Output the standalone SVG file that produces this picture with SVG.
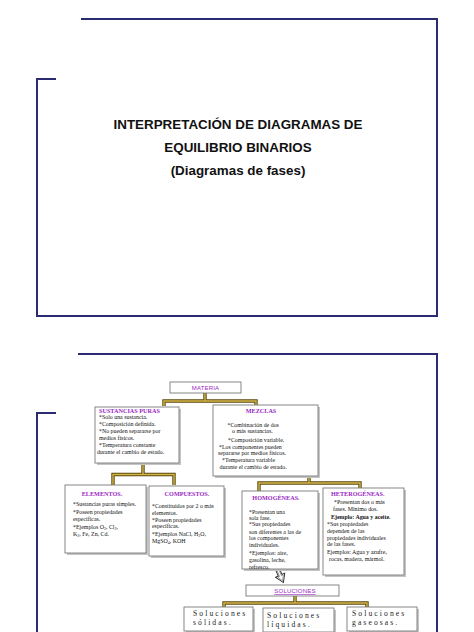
<svg xmlns="http://www.w3.org/2000/svg" width="474" height="632" viewBox="0 0 474 632">
<style>
.frame{fill:none;stroke:#2b2b72;stroke-width:2;stroke-linecap:square}
.title{font-family:"Liberation Sans",Arial,sans-serif;font-weight:bold;font-size:13.4px;fill:#111;text-anchor:middle}
.box{fill:#fff;stroke:#7a7a7a;stroke-width:0.9}
.shadow{fill:#c4c4c4}
.hd{font-family:"Liberation Serif","Times New Roman",serif;font-weight:bold;font-size:6.2px;fill:#9a1fc4}
.tx{font-family:"Liberation Serif","Times New Roman",serif;font-size:5.9px;fill:#111}
.b{font-weight:bold}
.lbl{font-family:"Liberation Sans",Arial,sans-serif;font-size:6px;fill:#9a1fc4;text-anchor:middle;letter-spacing:0.2px}
.sol{font-family:"Liberation Serif","Times New Roman",serif;font-size:7.6px;fill:#222;letter-spacing:2.1px}
.co{fill:none;stroke:#5a4a0c;stroke-width:3.4;stroke-linejoin:miter}
.ci{fill:none;stroke:#d6b548;stroke-width:1.4;stroke-linejoin:miter}
.mid{text-anchor:middle}
</style>
<rect width="474" height="632" fill="#fff"/>

<g id="slide1-frame">
  <polyline class="frame" points="82,19 437,19 437,316 37,316 37,79 55,79"/>
</g>
<g id="title">
  <text class="title" x="238" y="129">INTERPRETACIÓN DE DIAGRAMAS DE</text>
  <text class="title" x="238" y="152">EQUILIBRIO BINARIOS</text>
  <text class="title" x="238" y="175">(Diagramas de fases)</text>
</g>

<g id="slide2-frame">
  <polyline class="frame" points="79,354 437,354 437,640"/>
  <polyline class="frame" points="55,413 37,413 37,640"/>
</g>

<g id="connectors">
  <path class="co" d="M205,393V401M164,406V401H256V406"/>
  <path class="ci" d="M205,393V401M164,406V401H256V406"/>
  <path class="co" d="M143,463V474.5M113,485V474.5H174V485"/>
  <path class="ci" d="M143,463V474.5M113,485V474.5H174V485"/>
  <path class="co" d="M309,476V483M259,491V483H360V488"/>
  <path class="ci" d="M309,476V483M259,491V483H360V488"/>
  <path class="co" d="M295,596V603M224,607V603H367V607"/>
  <path class="ci" d="M295,596V603M224,607V603H367V607"/>
  <g transform="translate(276.5,567) rotate(-24)">
    <polygon points="-2,0 2,0 2,9 5,9 0,17 -5,9 -2,9" fill="#fff" stroke="#222" stroke-width="0.9"/>
    <polygon points="-1,1 1,1 1,10 3,10 0,15 -3,10 -1,10" fill="none" stroke="#555" stroke-width="0.5"/>
  </g>
</g>

<g id="materia">
  <rect class="box" x="170" y="382" width="71" height="11"/>
  <text class="lbl" x="205.5" y="390">MATERIA</text>
</g>

<g id="sustancias-puras">
  <rect class="shadow" x="97" y="409" width="84" height="56"/>
  <rect class="box" x="95" y="407" width="84" height="56"/>
  <text class="hd" x="99" y="412.7">SUSTANCIAS PURAS</text>
  <text class="tx" x="99" y="418.5">*Solo una sustancia.</text>
  <text class="tx" x="99" y="425.5">*Composición definida.</text>
  <text class="tx" x="99" y="432.7">*No pueden separarse por</text>
  <text class="tx" x="99" y="439.5">medios físicos.</text>
  <text class="tx" x="99" y="446.7">*Temperatura constante</text>
  <text class="tx" x="97" y="454">durante el cambio de estado.</text>
</g>

<g id="mezclas">
  <rect class="shadow" x="215" y="407" width="105" height="71"/>
  <rect class="box" x="213" y="405" width="105" height="71"/>
  <text class="hd mid" x="261" y="413">MEZCLAS</text>
  <text class="tx" x="227.5" y="426.5">*Combinación de dos</text>
  <text class="tx" x="232" y="432.5">o más sustancias.</text>
  <text class="tx" x="228" y="441.5">*Composición variable.</text>
  <text class="tx" x="219" y="448.5">*Los componentes pueden</text>
  <text class="tx" x="218" y="455">separarse por medios físicos.</text>
  <text class="tx" x="222" y="461.5">*Temperatura variable</text>
  <text class="tx" x="219.5" y="469">durante el cambio de estado.</text>
</g>

<g id="elementos">
  <rect class="shadow" x="67" y="487" width="81" height="68"/>
  <rect class="box" x="65" y="485" width="81" height="68"/>
  <text class="hd mid" x="102" y="496">ELEMENTOS.</text>
  <text class="tx" x="73" y="506">*Sustancias puras simples.</text>
  <text class="tx" x="73" y="514">*Poseen propiedades</text>
  <text class="tx" x="73" y="521">específicas.</text>
  <text class="tx" x="73" y="529">*Ejemplos O<tspan font-size="4" dy="1">2</tspan><tspan dy="-1">, Cl</tspan><tspan font-size="4" dy="1">2</tspan><tspan dy="-1">,</tspan></text>
  <text class="tx" x="73" y="536">K<tspan font-size="4" dy="1">2</tspan><tspan dy="-1">, Fe, Zn, Cd.</tspan></text>
</g>

<g id="compuestos">
  <rect class="shadow" x="151" y="488" width="75" height="70"/>
  <rect class="box" x="149" y="486" width="75" height="70"/>
  <text class="hd mid" x="187" y="496">COMPUESTOS.</text>
  <text class="tx" x="152" y="507.5">*Constituidos por 2 o más</text>
  <text class="tx" x="152" y="514.5">elementos.</text>
  <text class="tx" x="152" y="521.5">*Poseen propiedades</text>
  <text class="tx" x="152" y="528">específicas.</text>
  <text class="tx" x="152" y="535.5">*Ejemplos NaCl, H<tspan font-size="4" dy="1">2</tspan><tspan dy="-1">O,</tspan></text>
  <text class="tx" x="152" y="543">MgSO<tspan font-size="4" dy="1">4</tspan><tspan dy="-1">, KOH</tspan></text>
</g>

<g id="homogeneas">
  <rect class="shadow" x="244" y="493" width="76" height="78"/>
  <rect class="box" x="242" y="491" width="76" height="78"/>
  <text class="hd mid" x="276" y="500">HOMOGÉNEAS.</text>
  <text class="tx" x="249" y="513.5">*Presentan una</text>
  <text class="tx" x="249" y="519.5">sola fase.</text>
  <text class="tx" x="249" y="526">*Sus propiedades</text>
  <text class="tx" x="249" y="533.5">son diferentes a las de</text>
  <text class="tx" x="249" y="540">los componentes</text>
  <text class="tx" x="249" y="547">individuales.</text>
  <text class="tx" x="249" y="554.5">*Ejemplos: aire,</text>
  <text class="tx" x="249" y="562">gasolina, leche,</text>
  <text class="tx" x="249" y="569">refresco.</text>
</g>

<g id="heterogeneas">
  <rect class="shadow" x="325" y="490" width="81" height="87"/>
  <rect class="box" x="323" y="488" width="81" height="87"/>
  <text class="hd" x="331" y="496">HETEROGÉNEAS.</text>
  <text class="tx" x="334" y="503.5">*Presentan dos o más</text>
  <text class="tx" x="333" y="511">fases. Mínimo dos.</text>
  <text class="tx b" x="331" y="518.5">Ejemplo: Agua y aceite.</text>
  <text class="tx" x="327" y="526">*Sus propiedades</text>
  <text class="tx" x="327" y="533">dependen de las</text>
  <text class="tx" x="327" y="539.5">propiedades individuales</text>
  <text class="tx" x="327" y="546">de las fases.</text>
  <text class="tx" x="327" y="553.5">Ejemplos: Agua y azufre,</text>
  <text class="tx" x="329" y="561">rocas, madera, mármol.</text>
</g>

<g id="soluciones">
  <rect class="box" x="246" y="585" width="93" height="11"/>
  <text class="lbl" x="295" y="593" text-decoration="underline">SOLUCIONES</text>
</g>

<g id="sol-solidas">
  <rect class="shadow" x="186" y="609" width="69" height="24"/>
  <rect class="box" x="184" y="607" width="69" height="24"/>
  <text class="sol" x="193" y="615.5">Soluciones</text>
  <text class="sol" x="193" y="624.5">sólidas.</text>
</g>
<g id="sol-liquidas">
  <rect class="shadow" x="265" y="610" width="71" height="24"/>
  <rect class="box" x="263" y="608" width="71" height="24"/>
  <text class="sol" x="267" y="618">Soluciones</text>
  <text class="sol" x="267" y="627">líquidas.</text>
</g>
<g id="sol-gaseosas">
  <rect class="shadow" x="349" y="609" width="70" height="24"/>
  <rect class="box" x="347" y="607" width="70" height="24"/>
  <text class="sol" x="352" y="615.5">Soluciones</text>
  <text class="sol" x="352" y="624.5">gaseosas.</text>
</g>
</svg>
